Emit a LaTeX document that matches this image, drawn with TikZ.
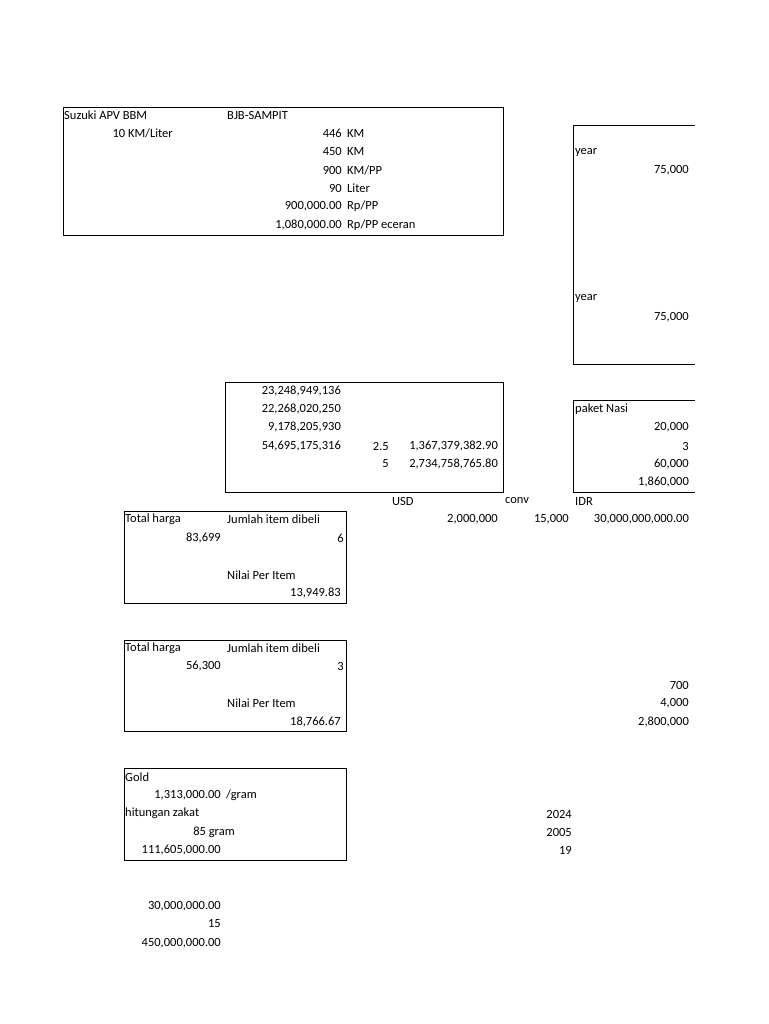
\documentclass[tikz,border=0pt]{standalone}
\usepackage{fontspec}
\setmainfont{Carlito}
\begin{document}
\begin{tikzpicture}[x=1pt,y=-1pt,
  every node/.style={inner sep=0pt,font=\fontsize{12.5}{14}\selectfont},
  L/.style={anchor=west},R/.style={anchor=east},
  box/.style={draw=black,line width=0.8pt}]
\useasboundingbox (0,0) rectangle (768,1024);
% boxes
\draw[box] (63,107) rectangle (503,235);
\draw[box] (695,125) -- (573,125) -- (573,364) -- (695,364);
\draw[box] (225,382) rectangle (503,492);
\draw[box] (695,400) -- (573,400) -- (573,492) -- (695,492);
\draw[box] (124,511) rectangle (346,603);
\draw[box] (124,640) rectangle (346,731);
\draw[box] (124,768) rectangle (346,860);
% box1
\node[L] (a1) at (64,115) {Suzuki APV BBM};
\node[L] (a2) at (227,115) {BJB-SAMPIT};
\node[R] (a3) at (173,133) {10 KM/Liter};
\node[R] (b1) at (342,133) {446}; \node[L] (c1) at (347,133) {KM};
\node[R] (b2) at (342,151) {450}; \node[L] (c2) at (347,151) {KM};
\node[R] (b3) at (342,170) {900}; \node[L] (c3) at (347,170) {KM/PP};
\node[R] (b4) at (342,188) {90}; \node[L] (c4) at (347,188) {Liter};
\node[R] (b5) at (342,206) {900,000.00}; \node[L] (c5) at (347,206) {Rp/PP};
\node[R] (b6) at (342,225) {1,080,000.00}; \node[L] (c6) at (347,225) {Rp/PP eceran};
% box2
\node[L] (y1) at (575,152) {year};
\node[R] (y2) at (689,170) {75,000};
\node[L] (y3) at (575,298) {year};
\node[R] (y4) at (689,317) {75,000};
% box3
\node[R] (d1) at (341,391) {23,248,949,136};
\node[R] (d2) at (341,409) {22,268,020,250};
\node[R] (d3) at (341,427) {9,178,205,930};
\node[R] (d4) at (341,446) {54,695,175,316};
\node[R] (d5) at (389,446) {2.5};
\node[R] (d6) at (498,446) {1,367,379,382.90};
\node[R] (d7) at (389,464) {5};
\node[R] (d8) at (498,464) {2,734,758,765.80};
% box4
\node[L] (p1) at (575,409) {paket Nasi};
\node[R] (p2) at (689,427) {20,000};
\node[R] (p3) at (689,446) {3};
\node[R] (p4) at (689,464) {60,000};
\node[R] (p5) at (689,482) {1,860,000};
% conversion
\node[L] (u1) at (392,501) {USD};
\node[L] (u2) at (505,501) {conv};
\node[L] (u3) at (575,501) {IDR};
\node[R] (u4) at (498,519) {2,000,000};
\node[R] (u5) at (569,519) {15,000};
\node[R] (u6) at (689,519) {30,000,000,000.00};
% box5
\node[L] (e1) at (125,519) {Total harga};
\node[L] (e2) at (227,519) {Jumlah item dibeli};
\node[R] (e3) at (221,538) {83,699};
\node[R] (e4) at (344,538) {6};
\node[L] (e5) at (227,575) {Nilai Per Item};
\node[R] (e6) at (341,593) {13,949.83};
% box6
\node[L] (f1) at (125,648) {Total harga};
\node[L] (f2) at (227,648) {Jumlah item dibeli};
\node[R] (f3) at (221,666) {56,300};
\node[R] (f4) at (344,666) {3};
\node[L] (f5) at (227,703) {Nilai Per Item};
\node[R] (f6) at (341,722) {18,766.67};
\node[R] (g1) at (689,685) {700};
\node[R] (g2) at (689,703) {4,000};
\node[R] (g3) at (689,722) {2,800,000};
% box7
\node[L] (h1) at (125,777) {Gold};
\node[R] (h2) at (221,795) {1,313,000.00}; \node[L] (h3) at (226,795) {/gram};
\node[L] (h4) at (125,813) {hitungan zakat};
\node[R] (h5) at (235,832) {85 gram};
\node[R] (h6) at (221,850) {111,605,000.00};
\node[R] (k1) at (572,814) {2024};
\node[R] (k2) at (572,832) {2005};
\node[R] (k3) at (572,850) {19};
% bottom
\node[R] (m1) at (221,906) {30,000,000.00};
\node[R] (m2) at (221,924) {15};
\node[R] (m3) at (221,943) {450,000,000.00};
\end{tikzpicture}
\end{document}
